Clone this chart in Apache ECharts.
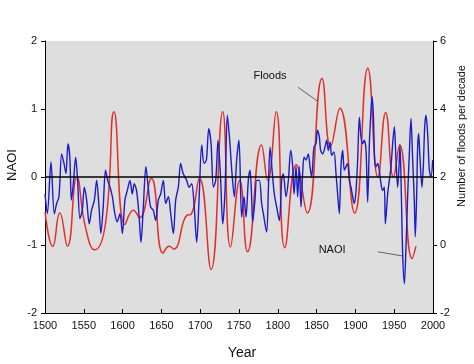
<!DOCTYPE html>
<html>
<head>
<meta charset="utf-8">
<script src="https://cdn.jsdelivr.net/npm/echarts@6/dist/echarts.min.js"></script>
<style>
html,body{margin:0;padding:0;background:#fff;}
#chart{width:474px;height:364px;}
</style>
</head>
<body>
<div id="chart"></div>
<script>
// NAOI (left axis)
var naoiYears = [1500,1503,1507.7,1512,1515,1518,1521.5,1524.5,1527,1529.6,1532,1534,1536.5,1539.5,1542,1545,1548,1550.7,1553.7,1557,1560,1563.6,1566.6,1569.6,1572,1575,1578,1580.8,1583.8,1586.8,1590,1593,1596.6,1599.7,1603,1606,1609.5,1612.5,1615,1618,1621,1623.7,1626.7,1630,1633,1636,1639.6,1642.6,1646,1649,1652.5,1655.5,1659,1662,1665.4,1668.4,1671.8,1674.8,1678,1682.6,1685.6,1689,1692,1695.5,1698.5,1702,1705,1708,1711,1714,1717,1720,1723,1726,1729,1732,1735,1738,1741,1744,1747,1750,
1753.4,1756.4,1759,1762,1764.2,1766.3,1767.6,1770.6,1772.8,1776.2,1779.2,1781.4,1785.6,1787.8,1790,1793,1795.5,1798.5,1802,1805,1807.1,1810.6,1813.6,1816.6,1819.2,1820.9,1823.5,1825.6,1827.7,1829.9,1832,1833.8,1836.3,1839.3,1841.5,1843.6,1846.6,1849.2,1851,1853.5,1855.2,1857.8,1860.8,1863,1865.1,1867.3,1869.4,1872.4,1875,
1877.1,1879.3,1881.4,1883.6,1885.7,1887.9,1890,1892.2,1894.3,1896.5,1898.6,1900.8,1902.9,1905.1,1907.2,1909.4,1911.5,1913.7,1915.8,1918,1920.1,1921.4,1923.1,1924.8,1926.5,1928.7,1930.8,1933,1935.1,1937.3,1938.6,1941.6,1943.7,1945.9,1948,1950.2,1952.3,1954.5,1956.6,1957.5,1959.2,1960.9,1963.1,1965.2,1967.4,1969.5,1971.6,1973.8,1975.9,1977.2,1979,1980.2,1981.5,1983.2,1985.8,1987.5,1989.3,1991,1993.1,1995.3,1997.4,1999.6];
var naoiValues = [-0.25,-0.54,0.22,-0.54,-0.39,-0.29,0.34,0.2,0.05,0.49,0.29,-0.34,-0.1,0.29,-0.05,-0.61,-0.49,-0.15,-0.34,-0.69,-0.49,-0.34,-0.05,-0.44,-0.83,-0.44,0.1,-0.05,-0.15,-0.29,-0.54,-0.66,-0.54,-0.83,-0.34,-0.2,-0.05,-0.25,-0.1,-0.2,-0.54,-0.96,-0.44,0.15,-0.15,-0.44,-0.49,-0.64,-0.34,-0.25,-0.05,-0.39,-0.29,-0.54,-0.83,-0.34,-0.15,0.2,0.05,-0.05,-0.15,-0.1,-0.39,-0.96,-0.34,0.47,0.2,0.25,0.71,0.49,-0.15,-0.05,0.54,0.05,-0.69,-0.2,0.91,0.54,0.05,-0.29,0.25,0.54,
-0.59,-0.29,-0.59,-0.05,0.1,-0.29,-0.66,-0.34,-0.05,-0.05,-0.39,-0.54,-0.81,-0.2,0.44,0.05,-0.25,-0.44,-0.64,-0.05,0.05,-0.29,-0.05,0.39,0.15,-0.25,0.15,-0.29,0.15,-0.44,0.05,0.29,0.25,0.34,0.15,0,0.44,0.49,0.69,0.59,0.39,0.34,0.44,0.54,0.39,0.51,0.32,0.37,0.05,
-0.25,-0.54,0.15,0.39,0.1,0.15,0.2,-0.05,-0.15,-0.29,-0.39,-0.2,0.25,0.88,0.59,0.49,0.54,0.39,-0.37,0.49,0.98,1.18,0.93,0.25,0.15,0.2,0.1,-0.1,-0.2,-0.15,-0.69,-0.25,-0.05,0.15,0.49,0.74,0.25,-0.15,0.25,0.47,-0.25,-1.13,-1.57,-1.03,-0.25,0.34,0.86,0.25,-0.34,-0.88,-0.25,0.44,0.64,0.29,-0.15,0.15,0.74,0.91,0.64,0.1,0,0.25];

// Floods per decade (right axis)
var floodYears = [1500,1510,1519,1529,1541,1552,1564,1578,1589,1603,1614,1622,1637,1652,1660,1666,1683,1688,1699,1714,1729,1739,1751,1761,1779,1787,1798,1809,1824,1838,1857,1868,1880,1899,1916,1929,1939,1949,1957,1973,1978];
var floodValues = [0.98,-0.04,0.94,-0.04,2.0,0.54,-0.14,0.64,3.92,0.6,1.02,0.8,1.96,-0.24,-0.04,-0.12,0.88,0.9,1.96,-0.72,3.92,-0.06,1.9,-0.2,2.94,1.9,3.92,-0.08,2.36,0.94,4.9,2.9,4.02,0.94,5.2,2.0,3.9,2.0,2.94,-0.4,-0.04];

// axis ticks
var xTicks = {min:1500, max:2000, step:50};
var naoiTicks = {min:-2, max:2, step:1};
var floodTicks = {min:-2, max:6, step:2};

function pairs(xs, ys){ return xs.map(function(x,i){ return [x, ys[i]]; }); }

var chart = echarts.init(document.getElementById('chart'), null, {renderer:'canvas'});
var FONT = 'Liberation Sans, Arial, sans-serif';
var plain = function(v){ return String(v); };
var axisCommon = {
  axisLine:{show:true, onZero:false, lineStyle:{color:'#000', width:1}},
  axisTick:{show:true, length:4, lineStyle:{color:'#000', width:1}},
  splitLine:{show:false}
};
chart.setOption({
  animation:false,
  backgroundColor:'#fff',
  grid:{left:45, right:41, top:41, bottom:51, show:true, backgroundColor:'#dedede', borderWidth:0},
  xAxis:Object.assign({}, axisCommon, {
    type:'value', min:xTicks.min, max:xTicks.max, interval:xTicks.step,
    axisTick:{show:true, inside:true, length:4, lineStyle:{color:'#000'}},
    axisLabel:{color:'#111', fontSize:11, fontFamily:FONT, margin:7, formatter:plain}
  }),
  yAxis:[
    Object.assign({}, axisCommon, {type:'value', min:naoiTicks.min, max:naoiTicks.max, interval:naoiTicks.step, position:'left',
      axisLabel:{color:'#111', fontSize:11, fontFamily:FONT, margin:8, formatter:plain}}),
    Object.assign({}, axisCommon, {type:'value', min:floodTicks.min, max:floodTicks.max, interval:floodTicks.step, position:'right',
      axisLabel:{color:'#111', fontSize:11, fontFamily:FONT, margin:7, formatter:plain}})
  ],
  graphic:[
    {type:'text', rotation:Math.PI/2, x:12, y:165, style:{text:'NAOI', font:'13px '+FONT, fill:'#111', textAlign:'center', textVerticalAlign:'middle'}},
    {type:'text', rotation:Math.PI/2, x:462, y:136, style:{text:'Number of floods per decade', font:'11px '+FONT, fill:'#111', textAlign:'center', textVerticalAlign:'middle'}},
    {type:'text', x:242, y:353, style:{text:'Year', font:'14px '+FONT, fill:'#111', textAlign:'center', textVerticalAlign:'middle'}}
  ],
  series:[
    {
      type:'line', name:'Floods', yAxisIndex:1, data:pairs(floodYears, floodValues),
      smooth:0.5, showSymbol:false, symbol:'none',
      lineStyle:{color:'#e0302c', width:1.5}, z:2
    },
    {
      type:'line', name:'NAOI', yAxisIndex:0, data:pairs(naoiYears, naoiValues),
      smooth:0.3, showSymbol:false, symbol:'none',
      lineStyle:{color:'#1c1cc8', width:1.4}, z:3,
      markLine:{
        silent:true, symbol:'none', label:{show:false}, animation:false,
        data:[
          {yAxis:0, lineStyle:{color:'#000', width:1.6, type:'solid'}},
          [{coord:[1826,1.32], lineStyle:{color:'#555', width:0.9, type:'solid'}},{coord:[1850.5,1.12]}],
          [{coord:[1929,-1.10], lineStyle:{color:'#555', width:0.9, type:'solid'}},{coord:[1960,-1.16]}]
        ]
      },
      markPoint:{
        silent:true, animation:false,
        data:[
          {coord:[1790,1.49], symbol:'circle', symbolSize:0, label:{show:true, position:'inside', formatter:'Floods', color:'#111', fontSize:11, fontFamily:FONT}},
          {coord:[1870,-1.07], symbol:'circle', symbolSize:0, label:{show:true, position:'inside', formatter:'NAOI', color:'#111', fontSize:11, fontFamily:FONT}}
        ]
      }
    }
  ]
});
</script>
</body>
</html>
